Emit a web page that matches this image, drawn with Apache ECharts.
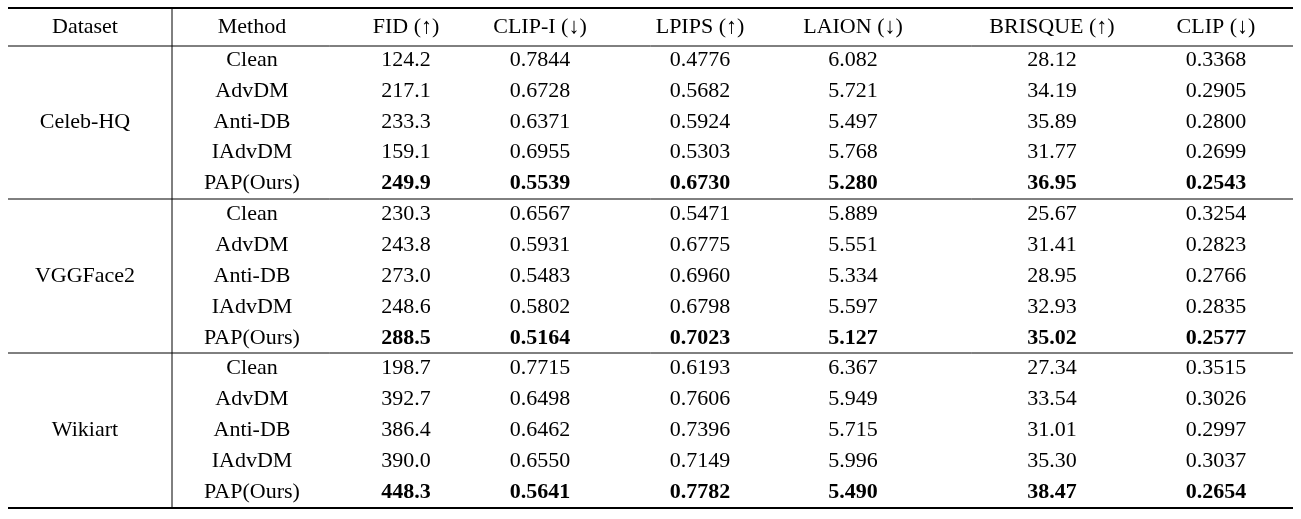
<!DOCTYPE html>
<html><head><meta charset="utf-8">
<script src="https://cdn.jsdelivr.net/npm/echarts@6/dist/echarts.min.js"></script>
<style>html,body{margin:0;padding:0;background:#fff}#c{width:1301px;height:519px}</style>
</head><body><div id="c"></div>
<script>
const headers = ["Dataset","Method","FID (\u2191)","CLIP-I (\u2193)","LPIPS (\u2191)","LAION (\u2193)","BRISQUE (\u2191)","CLIP (\u2193)"];
const datasets = ["Celeb-HQ","VGGFace2","Wikiart"];
const methods = ["Clean","AdvDM","Anti-DB","IAdvDM","PAP(Ours)"];
const celebHQ = [
 ["124.2","0.7844","0.4776","6.082","28.12","0.3368"],
 ["217.1","0.6728","0.5682","5.721","34.19","0.2905"],
 ["233.3","0.6371","0.5924","5.497","35.89","0.2800"],
 ["159.1","0.6955","0.5303","5.768","31.77","0.2699"],
 ["249.9","0.5539","0.6730","5.280","36.95","0.2543"]];
const vggFace2 = [
 ["230.3","0.6567","0.5471","5.889","25.67","0.3254"],
 ["243.8","0.5931","0.6775","5.551","31.41","0.2823"],
 ["273.0","0.5483","0.6960","5.334","28.95","0.2766"],
 ["248.6","0.5802","0.6798","5.597","32.93","0.2835"],
 ["288.5","0.5164","0.7023","5.127","35.02","0.2577"]];
const wikiart = [
 ["198.7","0.7715","0.6193","6.367","27.34","0.3515"],
 ["392.7","0.6498","0.7606","5.949","33.54","0.3026"],
 ["386.4","0.6462","0.7396","5.715","31.01","0.2997"],
 ["390.0","0.6550","0.7149","5.996","35.30","0.3037"],
 ["448.3","0.5641","0.7782","5.490","38.47","0.2654"]];
const blocks = [celebHQ, vggFace2, wikiart];

const colX = [85,252,406,540,700,853,1052,1216];
const font = '"Liberation Serif","DejaVu Serif",serif';
const fs = 22;
const headerY = 27, firstRowY = 60, rowH = 30.9, blockH = 154.3;
const els = [];
function txt(x,y,s,bold){els.push({type:'text',x:x,y:y,style:{text:s,font:(bold?'bold ':'')+fs+'px '+font,fill:'#000',textAlign:'center',textVerticalAlign:'middle'}});}
function hline(y,w){els.push({type:'line',shape:{x1:8,y1:y,x2:1293,y2:y},style:{stroke:'#000',lineWidth:w}});}
headers.forEach((h,i)=>txt(colX[i],headerY,h));
blocks.forEach((blk,b)=>{
  const y0 = firstRowY + b*blockH;
  txt(colX[0], y0+2*rowH, datasets[b]);
  blk.forEach((row,r)=>{
    const y = y0 + r*rowH;
    const bold = r===methods.length-1;
    txt(colX[1], y, methods[r]);
    row.forEach((v,c)=>txt(colX[c+2], y, v, bold));
  });
});
hline(8,2); hline(46,1); hline(199,1); hline(353,1); hline(508,2);
els.push({type:'line',shape:{x1:172,y1:8,x2:172,y2:508},style:{stroke:'#000',lineWidth:1}});
const chart = echarts.init(document.getElementById('c'));
chart.setOption({animation:false,graphic:{elements:els}});
</script></body></html>
